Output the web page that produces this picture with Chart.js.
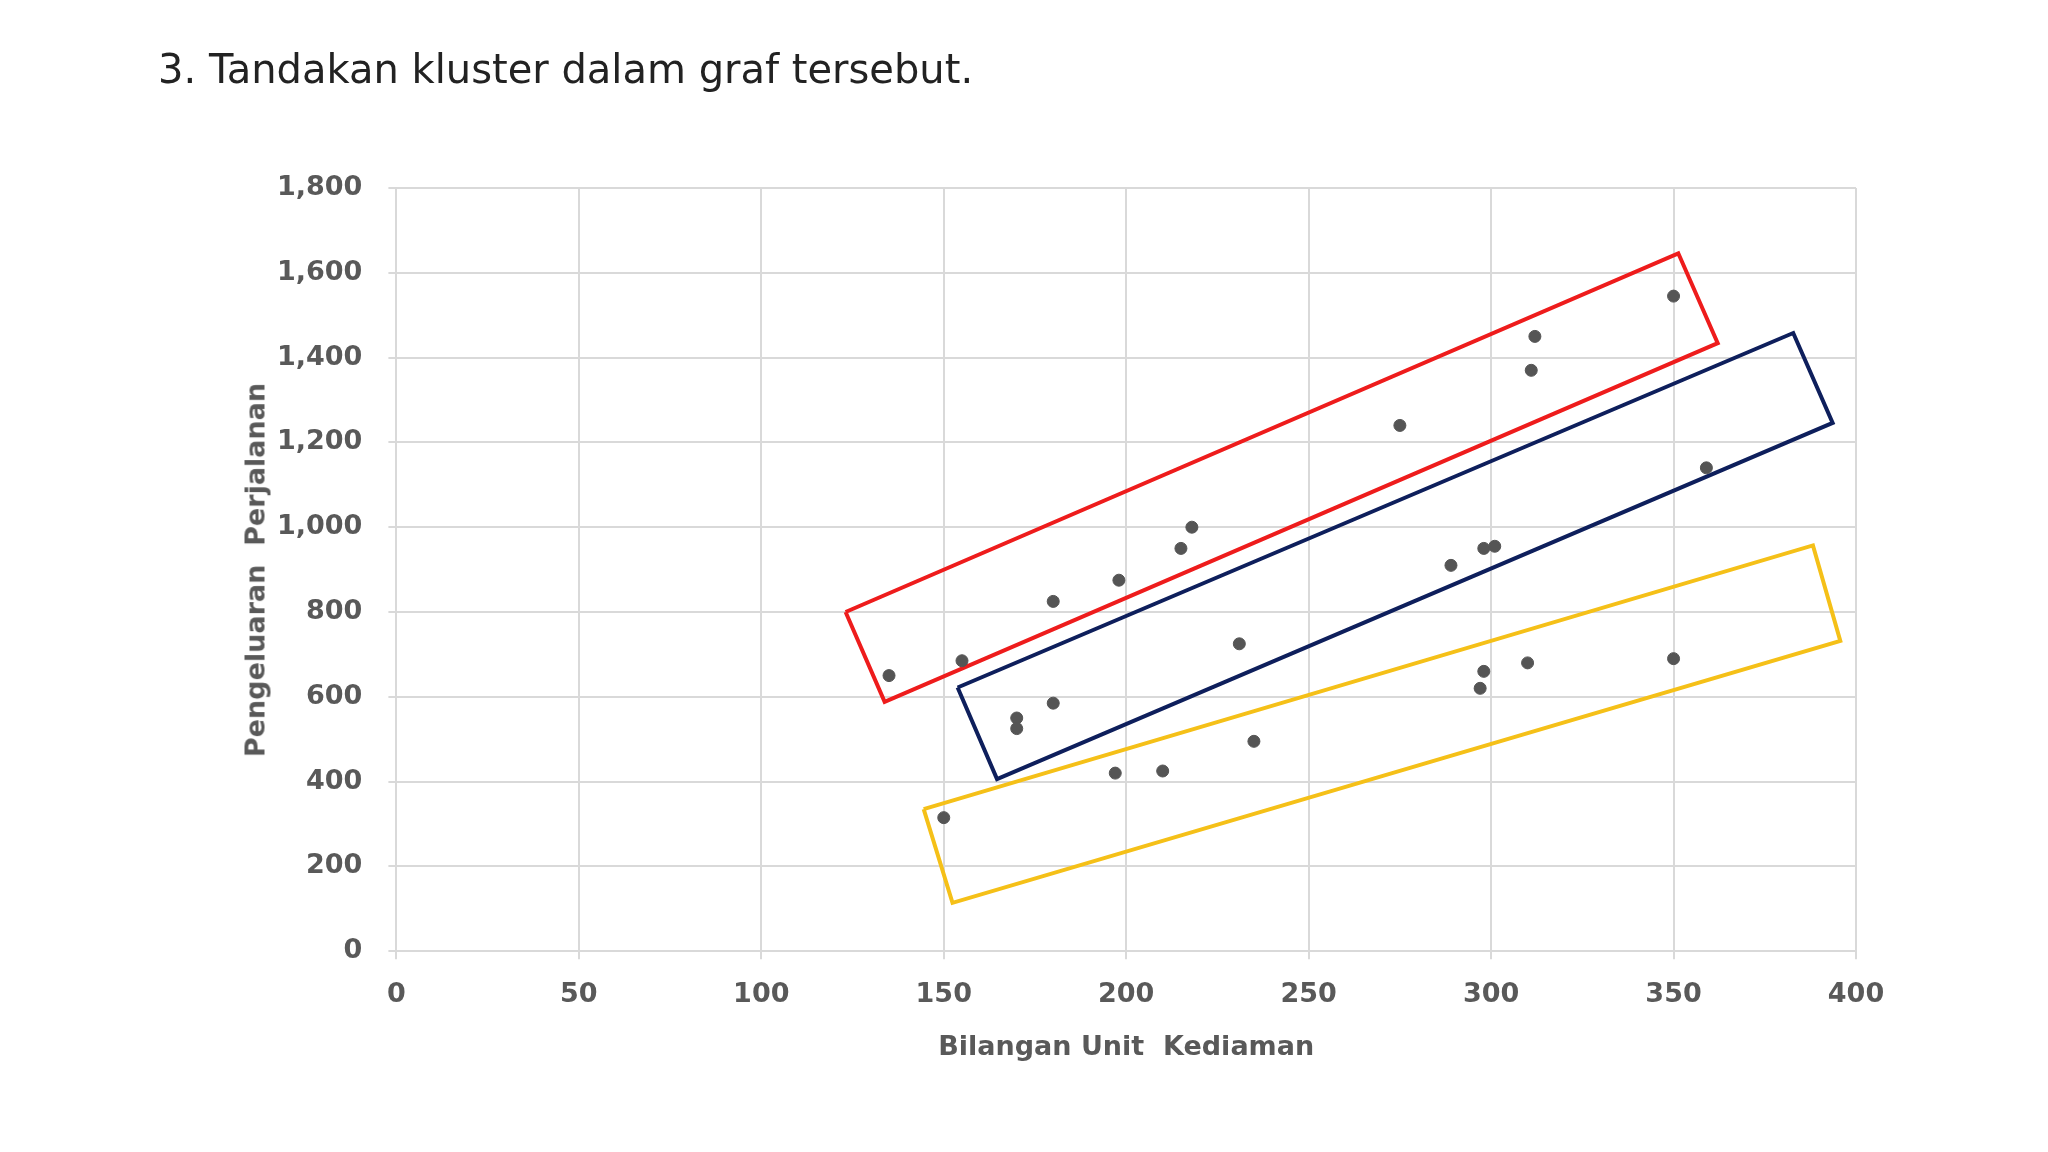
<!DOCTYPE html>
<html><head><meta charset="utf-8">
<script src="https://cdn.jsdelivr.net/npm/chart.js"></script>
<style>
html,body{margin:0;padding:0;background:#fff;width:2048px;height:1152px;overflow:hidden}
#t{position:absolute;left:158px;top:46px;font:40px "DejaVu Sans",sans-serif;color:#222}
#w{position:absolute;left:0;top:0;width:2048px;height:1152px}
#yt{position:absolute;left:255px;top:570px;transform:translate(-50%,-50%) rotate(-90deg);white-space:pre;font:bold 27px "DejaVu Sans",sans-serif;color:#595959}
</style></head><body>
<div id="w"><canvas id="c" width="2048" height="1152"></canvas></div>
<div id="t">3. Tandakan kluster dalam graf tersebut.</div>
<div id="yt">Pengeluaran  Perjalanan</div>
<script>
const units=[135,155,170,170,180,180,197,198,210,215,218,231,235,275,289,297,298,298,301,310,311,312,350,350,359,150];
const spending=[650,685,550,525,825,585,420,875,425,950,1000,725,495,1240,910,620,660,950,955,680,1370,1450,1545,690,1140,315];
const redX=[123.1,351.3,362.1,133.8,123.1], redY=[800,1646,1434,588,800];
const blueX=[153.8,382.8,393.6,164.6,153.8], blueY=[622,1458,1246,406,622];
const yelX=[144.5,388.2,395.7,152.4,144.5], yelY=[335,957,732,114,335];
const xTicks=[0,50,100,150,200,250,300,350,400];
const pts=(xs,ys)=>xs.map((x,i)=>({x,y:ys[i]}));
const box=(xs,ys,c)=>({type:'line',data:pts(xs,ys),borderColor:c,borderWidth:4,pointRadius:0,fill:false,tension:0,showLine:true});
new Chart(document.getElementById('c'),{
type:'scatter',
data:{datasets:[
{data:pts(units,spending),backgroundColor:'#555',borderColor:'#555',pointRadius:6},
box(redX,redY,'#ee1c1c'),box(blueX,blueY,'#0e1f5c'),box(yelX,yelY,'#f5c018')]},
options:{responsive:false,animation:false,
layout:{padding:{left:251,right:192,top:188,bottom:84}},
plugins:{legend:{display:false},tooltip:{enabled:false}},
scales:{
x:{type:'linear',min:0,max:400,afterBuildTicks:a=>{a.ticks=xTicks.map(v=>({value:v}))},
 grid:{color:'#d9d9d9',lineWidth:2},border:{color:'#d9d9d9',width:2},
 ticks:{color:'#595959',font:{size:27,weight:'bold',family:'DejaVu Sans'},padding:20},
 title:{display:true,text:'Bilangan Unit  Kediaman',color:'#595959',font:{size:27,weight:'bold',family:'DejaVu Sans'},padding:{top:0}}},
y:{min:0,max:1800,ticks:{stepSize:200,color:'#595959',font:{size:27,weight:'bold',family:'DejaVu Sans'},padding:26},
 grid:{color:'#d9d9d9',lineWidth:2},border:{color:'#d9d9d9',width:2},
 title:{display:false}}
}}});
</script></body></html>
